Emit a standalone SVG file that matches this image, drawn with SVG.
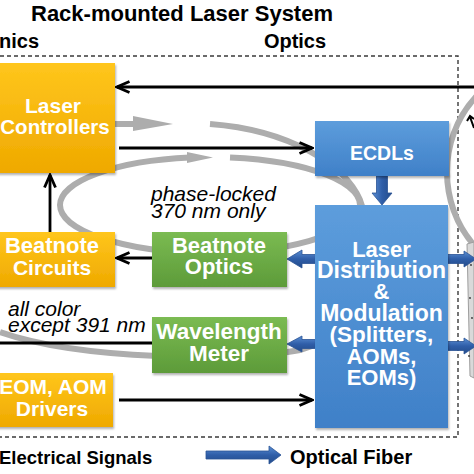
<svg xmlns="http://www.w3.org/2000/svg" width="474" height="474" viewBox="0 0 474 474">
<defs>
<style>
.ttl{font-family:"Liberation Sans",Arial,sans-serif;font-weight:bold;fill:#000}
.lbl{font-family:"Liberation Sans",Arial,sans-serif;font-weight:bold;fill:#fff;text-anchor:middle}
.it{font-family:"Liberation Sans",Arial,sans-serif;font-style:italic;fill:#000;font-size:21px}
.blk{fill:none;stroke:#000;stroke-width:2.8}
.gry{fill:none;stroke:#adadad;stroke-width:6}
.gryf{fill:#adadad}
.fib{fill:url(#gFib);stroke:#2a5394;stroke-width:0.8}
</style>
<linearGradient id="gY" x1="0" y1="0" x2="0" y2="1"><stop offset="0" stop-color="#ffc61c"/><stop offset="1" stop-color="#efa900"/></linearGradient>
<linearGradient id="gG" x1="0" y1="0" x2="0" y2="1"><stop offset="0" stop-color="#7bbb52"/><stop offset="1" stop-color="#5d9b39"/></linearGradient>
<linearGradient id="gB" x1="0" y1="0" x2="0" y2="1"><stop offset="0" stop-color="#5d9ddc"/><stop offset="1" stop-color="#3f80c8"/></linearGradient>
<linearGradient id="gFib" x1="0" y1="0" x2="0" y2="1"><stop offset="0" stop-color="#5b8fd4"/><stop offset="0.5" stop-color="#2f5ea8"/><stop offset="1" stop-color="#234b8a"/></linearGradient>
<linearGradient id="gFibV" x1="0" y1="0" x2="1" y2="0"><stop offset="0" stop-color="#5b8fd4"/><stop offset="0.5" stop-color="#2f5ea8"/><stop offset="1" stop-color="#234b8a"/></linearGradient>
<filter id="sh" x="-10%" y="-10%" width="125%" height="125%"><feDropShadow dx="1" dy="2" stdDeviation="1.2" flood-color="#000" flood-opacity="0.3"/></filter>
<marker id="ah" viewBox="0 0 16 14" refX="14" refY="7" markerWidth="16" markerHeight="14" markerUnits="userSpaceOnUse" orient="auto"><path d="M1.5,1.5 L14,7 L1.5,12.5" fill="none" stroke="#000" stroke-width="2.8"/></marker>
</defs>
<rect width="474" height="474" fill="#fff"/>

<!-- titles -->
<text class="ttl" x="182" y="21" font-size="22" text-anchor="middle">Rack-mounted Laser System</text>
<text class="ttl" x="-1" y="48" font-size="20">nics</text>
<text class="ttl" x="295" y="48" font-size="20" text-anchor="middle">Optics</text>

<!-- dashed frame -->
<path d="M0,56 H458 V437 H0" fill="none" stroke="#3a3a3a" stroke-width="1.4" stroke-dasharray="4,3"/>

<!-- grey feedback loops -->
<g id="loops">
<ellipse cx="543" cy="172" rx="96" ry="105" class="gry"/>
<path class="gry" d="M0,332 C80,360 240,362 300,350 C360,335 380,250 360,200 C345,165 290,130 210,124"/>
<path class="gry" d="M110,124 H136"/>
<polygon class="gryf" points="133,116 173,124 133,131"/>
<path class="gry" d="M230,157.4 A150,48 0 1,1 60,205"/>
<path class="gry" d="M60,205 A150,48 0 0,1 190,157.6"/>
<polygon class="gryf" points="187,152 213,157.4 187,163"/>
</g>

<!-- external panel -->
<g id="panel">
<polygon points="467,244 474,242 474,378 470,376" fill="#d9d9d9" stroke="#9e9e9e" stroke-width="1"/>
<circle cx="471" cy="265" r="0.9" fill="#333"/>
<circle cx="470" cy="298" r="0.9" fill="#333"/>
<circle cx="472" cy="318" r="0.9" fill="#333"/>
<circle cx="469" cy="356" r="0.9" fill="#333"/>
</g>

<!-- connectors -->
<g id="connectors">
<path class="blk" d="M474,87 H117" marker-end="url(#ah)"/>
<path class="blk" d="M119,148 H312" marker-end="url(#ah)"/>
<path class="blk" d="M50,232 V175" marker-end="url(#ah)"/>
<path class="blk" d="M152,258 H117" marker-end="url(#ah)"/>
<path class="blk" d="M0,343 H153"/>
<path class="blk" d="M119,400 H312" marker-end="url(#ah)"/>
<path d="M474,128 L470,117 M467,121 L470,116 L474,119" fill="none" stroke="#000" stroke-width="2"/>
<polygon fill="url(#gFibV)" stroke="#2a5394" stroke-width="0.8" points="376.5,176 387.5,176 387.5,193 392,193 382,205 372,193 376.5,193"/>
<polygon class="fib" points="316,254.5 302,254.5 302,250 287,259 302,268 302,263.5 316,263.5"/>
<polygon class="fib" points="316,339.5 302,339.5 302,336 287,344 302,352 302,348.5 316,348.5"/>
<polygon class="fib" points="447,254.5 464,254.5 464,251 476,259 464,267 464,263.5 447,263.5"/>
<polygon class="fib" points="447,341.5 464,341.5 464,338 476,346 464,354 464,350.5 447,350.5"/>
</g>

<!-- nodes -->
<g id="laser-controllers">
<rect x="-6" y="63" width="121" height="110" fill="url(#gY)" filter="url(#sh)"/>
<text class="lbl" x="53" y="113" font-size="21">Laser</text>
<text class="lbl" x="55" y="134" font-size="20.5">Controllers</text>
</g>
<g id="beatnote-circuits">
<rect x="-6" y="232" width="121" height="55" fill="url(#gY)" filter="url(#sh)"/>
<text class="lbl" x="52" y="253" font-size="22">Beatnote</text>
<text class="lbl" x="52" y="275" font-size="21">Circuits</text>
</g>
<g id="eom-aom-drivers">
<rect x="-6" y="373" width="119" height="54" fill="url(#gY)" filter="url(#sh)"/>
<text class="lbl" x="53" y="394" font-size="21">EOM, AOM</text>
<text class="lbl" x="52" y="416" font-size="21">Drivers</text>
</g>
<g id="beatnote-optics">
<rect x="152" y="232" width="135" height="55" fill="url(#gG)" filter="url(#sh)"/>
<text class="lbl" x="219" y="253" font-size="22">Beatnote</text>
<text class="lbl" x="219" y="274" font-size="22">Optics</text>
</g>
<g id="wavelength-meter">
<rect x="152" y="317" width="135" height="56" fill="url(#gG)" filter="url(#sh)"/>
<text class="lbl" x="219" y="339" font-size="22.5">Wavelength</text>
<text class="lbl" x="219" y="361" font-size="22.5">Meter</text>
</g>
<g id="ecdls">
<rect x="315" y="121" width="134" height="55" fill="url(#gB)" filter="url(#sh)"/>
<text class="lbl" x="382" y="160" font-size="19.5">ECDLs</text>
</g>
<g id="laser-distribution">
<rect x="315" y="205" width="133" height="223" fill="url(#gB)" filter="url(#sh)"/>
<text class="lbl" x="381.5" y="257" font-size="22">Laser</text>
<text class="lbl" x="381.5" y="278" font-size="23">Distribution</text>
<text class="lbl" x="381.5" y="299" font-size="22">&amp;</text>
<text class="lbl" x="381.5" y="321" font-size="23">Modulation</text>
<text class="lbl" x="381.5" y="342" font-size="22.5">(Splitters,</text>
<text class="lbl" x="381.5" y="364" font-size="22">AOMs,</text>
<text class="lbl" x="381.5" y="385" font-size="22">EOMs)</text>
</g>

<!-- annotations -->
<text class="it" x="151" y="201">phase-locked</text>
<text class="it" x="151" y="218">370 nm only</text>
<text class="it" x="8" y="316">all color</text>
<text class="it" x="8" y="332">except 391 nm</text>

<!-- legend -->
<g id="legend">
<text class="ttl" x="-1" y="464" font-size="18.5">Electrical Signals</text>
<polygon fill="url(#gFib)" stroke="#2a5394" stroke-width="0.8" points="206,451 269,451 269,446 281,455 269,464 269,459 206,459"/>
<text class="ttl" x="290" y="464" font-size="20">Optical Fiber</text>
</g>
</svg>
